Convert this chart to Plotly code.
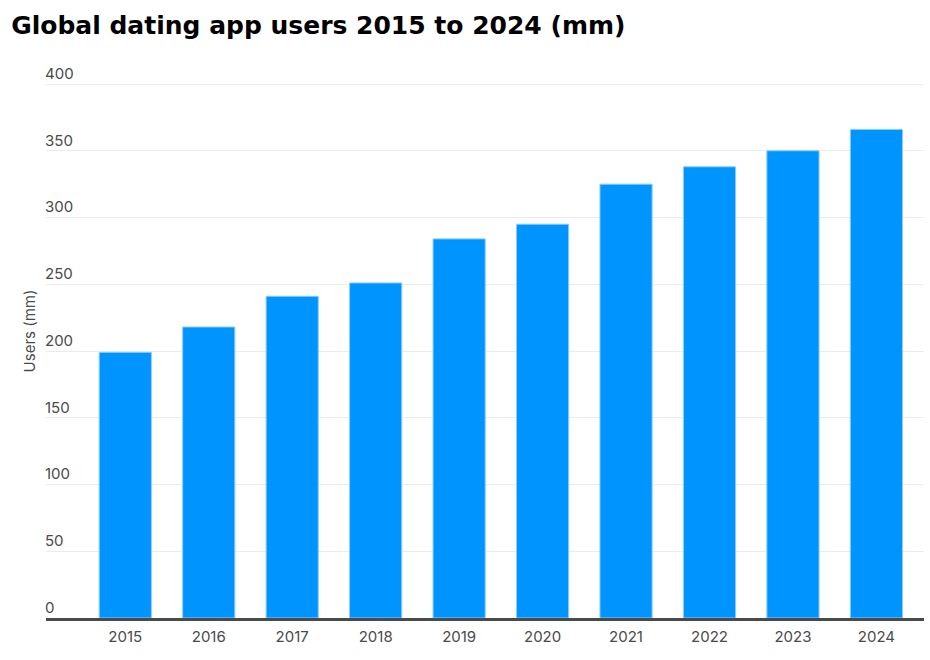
import plotly.graph_objects as go

years = ["2015", "2016", "2017", "2018", "2019", "2020", "2021", "2022", "2023", "2024"]
users = [199, 218, 241, 251, 284, 295, 325, 338, 350, 366]
y_ticks = [0, 50, 100, 150, 200, 250, 300, 350, 400]

fig = go.Figure()
fig.add_trace(go.Bar(
    x=years, y=users,
    marker=dict(color="#0094FF", line=dict(color="#8ccbff", width=1)),
    hoverinfo="x+y",
))

fig.update_layout(
    width=930, height=660,
    margin=dict(l=46, r=6, t=44, b=42),
    paper_bgcolor="white", plot_bgcolor="white",
    bargap=0.375,
    showlegend=False,
    title=dict(
        text="<b>Global dating app users 2015 to 2024 (mm)</b>",
        x=0.012, xanchor="left", y=0.962, yanchor="middle",
        font=dict(family="DejaVu Sans", size=25, color="#000000"),
    ),
    font=dict(family="Inter", color="#4a4a4a"),
)

fig.update_xaxes(
    type="category",
    range=[-0.95, 9.57],
    showline=True, linecolor="#4a4a4a", linewidth=2.5,
    showgrid=False, ticks="",
    ticklabelstandoff=3,
    tickfont=dict(size=15, color="#4a4a4a"),
)

fig.update_yaxes(
    range=[0, 430],
    tickvals=y_ticks,
    ticklabelposition="inside top",
    ticklabelstandoff=-4,
    showgrid=True, gridcolor="#ebebeb", gridwidth=1,
    zeroline=False, ticks="",
    tickfont=dict(size=15, color="#4a4a4a"),
    title=dict(text="Users (mm)", font=dict(size=15, color="#4a4a4a"), standoff=5),
)

fig.write_html("out.html")
